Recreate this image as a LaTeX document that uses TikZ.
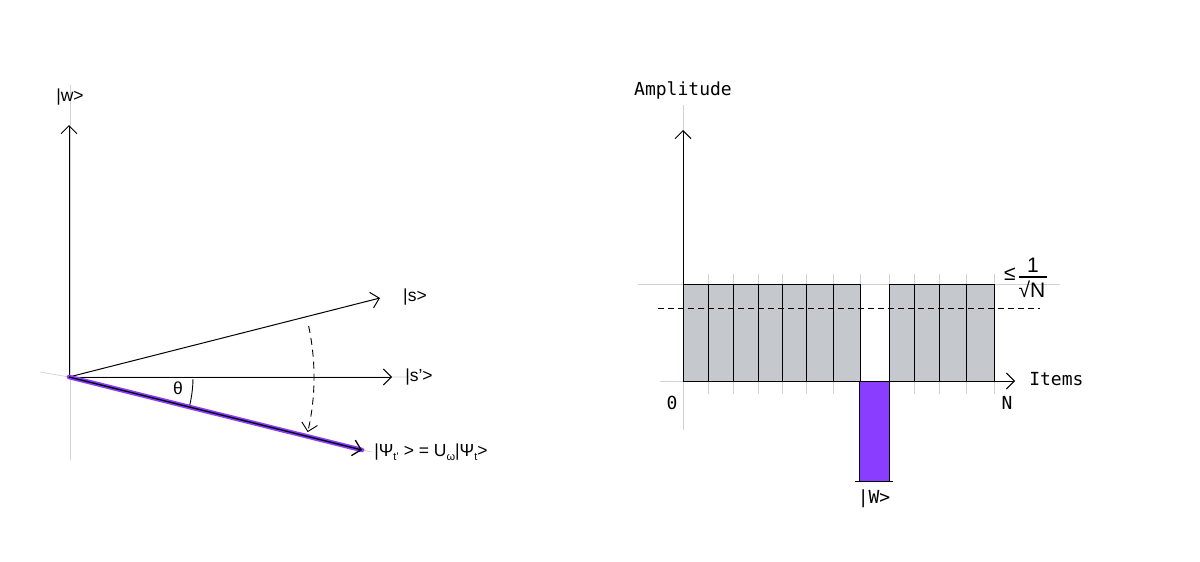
\documentclass[tikz,border=0pt]{standalone}
\usepackage{fontspec}
\setmainfont{Liberation Sans}
\newfontfamily\itemfont{DejaVu Sans Mono}
\usetikzlibrary{arrows.meta,positioning}
\definecolor{psipurple}{RGB}{139,61,255}
\definecolor{barfill}{RGB}{197,201,205}
\newcommand{\lowsub}[1]{\raisebox{-.45ex}{\fontsize{11}{11}\selectfont #1}}
\tikzset{
  guide/.style={gray!35,line width=.7pt},
  vec/.style={->,line width=1pt},
  lbl/.style={font=\fontsize{17.5}{19}\selectfont,inner sep=1pt},
  mlbl/.style={font=\itemfont\fontsize{18}{20}\selectfont,inner sep=1pt},
  frac/.style={font=\fontsize{21}{23}\selectfont,inner sep=0pt},
  longdash/.style={dash pattern=on 7pt off 5pt,line width=.9pt},
}
\begin{document}
\begin{tikzpicture}[x=1pt,y=-1pt,line width=.1ex,>={Straight Barb[length=8pt,width=16pt]}]
\useasboundingbox (0,0) rectangle (1200,562);
%\draw[step=50,gray,very thin] (0,0) grid (1200,562);
% left: state vectors
\coordinate (o) at (69,377);
\coordinate (wtip) at (69,125);
\coordinate (stip) at (380,298);
\coordinate (sptip) at (392,377);
\coordinate (psitip) at (362,450);
\draw[guide] (70,85) -- (70,460);%%
\draw[guide] (40,372) -- (o) -- (410,377);%%
\draw[guide] (psitip) -- (372,452);%%
\draw[vec] (o) -- (wtip);%%
\node[lbl] (w) at (70,97) {|w>};%%
\draw[vec] (o) -- (stip);%%
\node[lbl] (s) at (415,297) {|s>};%%
\draw[vec] (o) -- (sptip);%%
\node[lbl] (sp) at (419,377) {|s’>};%%
\draw[psipurple,line width=4.6pt,line cap=round] (o) -- (psitip);%%
\draw[vec,line width=1.3pt] (o) -- (psitip);%%
\node[lbl,anchor=west] (psi) at (373,452) {|Ψ\lowsub{t'} > = U\lowsub{ω}|Ψ\lowsub{t}>};%%
\node[lbl] (theta) at (178,388) {θ};%%
\draw[line width=.9pt] (o) ++(1:124) arc[start angle=1,end angle=13,radius=124];%%
\draw[longdash,->] (o) ++(-12:245) arc[start angle=-12,end angle=13,radius=245];%%
% right: amplitudes
\coordinate (r0) at (683,381);
\coordinate (ytip) at (683,130);
\coordinate (xtip) at (1015,381);
\draw[guide] (683,105) -- (683,430);%%
\draw[guide] (660,381) -- (1015,381);%%
\draw[guide] (638,284) -- (1060,284);%%
\fill[barfill] (683,284) rectangle (860,381);%%
\fill[barfill] (889,284) rectangle (994,381);%%
\foreach \x in {683,708,733,758,782,806,833,860,889,914,939,966,994}
  \draw[guide] (\x,274) -- (\x,394);
\foreach \x in {683,708,733,758,782,806,833,860,889,914,939,966,994}
  \draw[line width=1pt] (\x,284) -- (\x,381);
\draw[line width=1pt] (683,284) -- (860,284);%%
\draw[line width=1pt] (889,284) -- (994,284);%%
\draw[dash pattern=on 6pt off 4pt,line width=.9pt] (658,308) -- (1040,308);%%
\filldraw[fill=psipurple,line width=1pt] (859,381) rectangle (889,481);%%
\draw[line width=1pt] (855,481) -- (893,481);%%
\draw[vec] (r0) -- (ytip);%%
\draw[vec] (r0) -- (xtip);%%
\node[mlbl] (amp) at (683,90) {Amplitude};%%
\node[mlbl,anchor=west] (items) at (1028,379) {Items};%%
\node[mlbl] (zero) at (672,403) {0};%%
\node[mlbl] (n) at (1007,403) {N};%%
\node[mlbl] (wbar) at (874,499) {|W>};%%
\node[frac] (le) at (1010,274) {≤};%%
\node[frac] (one) at (1033,265) {1};%%
\node[frac] (rootn) at (1032,289) {√N};%%
\draw[line width=1.4pt] (1019,277) -- (1047,277);%%
\end{tikzpicture}
\end{document}
